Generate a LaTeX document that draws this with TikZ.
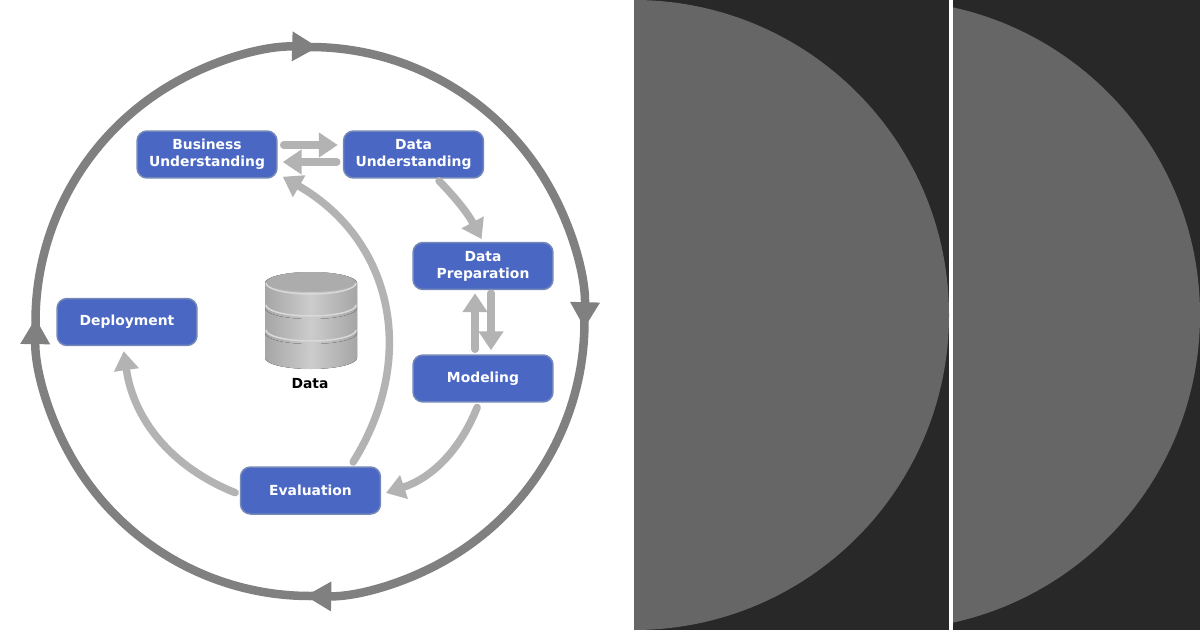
\documentclass[tikz,border=0pt]{standalone}
\usepackage{fontspec}
\setmainfont{DejaVu Sans}
\usepackage{tikz}
\usetikzlibrary{arrows.meta}
\definecolor{stepblue}{HTML}{4A67C3}
\definecolor{stepedge}{HTML}{7488B8}
\definecolor{flowgray}{HTML}{B3B3B3}
\definecolor{ringgray}{HTML}{808080}
\definecolor{paneldark}{HTML}{282828}
\definecolor{panellight}{HTML}{666666}
\tikzset{
  stepbox/.style={draw=stepedge,line width=.03cm,fill=stepblue,rounded corners=.2cm,
    minimum width=2.8cm,minimum height=.94cm,inner sep=0pt,align=center,text=white,
    font=\fontsize{7.9}{9.7}\selectfont\bfseries},
  flow/.style={draw=flowgray,line width=.15cm,line cap=round,
    -{Triangle[length=.38cm,width=.48cm]}},
  ring/.style={draw=ringgray,line width=.17cm,
    -{Triangle[length=.52cm,width=.56cm]}}
}
\begin{document}
\begin{tikzpicture}[x=0.02cm,y=0.02cm]
\useasboundingbox[fill=white] (0,0) rectangle (1200,630);
% right panels
\fill[paneldark] (634,0) rectangle (949,630);
\fill[paneldark] (953,0) rectangle (1200,630);
\begin{scope}
\clip (634,0) rectangle (949,630);
\fill[panellight] (634,315) circle[radius=315];
\end{scope}
\begin{scope}
\clip (953,0) rectangle (1200,630);
\fill[panellight] (885,315) circle[radius=315];
\end{scope}
% outer ring
\foreach \a/\b in {91.3/-1.4,1.6/-91,-88/-180.7,182.3/88.3}
  \draw[ring] ([shift={(\a:274.5)}]310,308.5) arc[start angle=\a,end angle=\b,radius=274.5];
% data drum
\foreach \y in {297,322,347}
  \fill[left color=gray!70,right color=gray!70,middle color=gray!40]
    (265,\y) -- (265,\y-25) arc[start angle=180,end angle=360,x radius=46,y radius=11]
    -- (357,\y) arc[start angle=0,end angle=180,x radius=46,y radius=11] -- cycle;
\foreach \y in {300,325,347}
  \draw[gray!30,line width=.03cm] (266,\y) arc[start angle=180,end angle=360,x radius=45,y radius=11];
\fill[gray!65] (311,348) ellipse[x radius=42,y radius=10];
\node (datalabel) at (310,246) {\fontsize{7.9}{9.7}\selectfont\bfseries Data};
% steps
\node[stepbox] (bu) at (207,475.5) {Business\\Understanding};
\node[stepbox] (du) at (413.5,475.5) {Data\\Understanding};
\node[stepbox] (dp) at (483,364) {Data\\Preparation};
\node[stepbox] (mo) at (483,251.5) {Modeling};
\node[stepbox] (ev) at (310.5,139.5) {Evaluation};
\node[stepbox] (de) at (127,308) {Deployment};
% flows
\draw[flow,shorten <=.12cm,shorten >=.1cm] ([yshift=.19cm]bu.east) -- ([yshift=.19cm]du.west);
\draw[flow,shorten <=.12cm,shorten >=.1cm] ([yshift=-.15cm]du.west) -- ([yshift=-.15cm]bu.east);
\draw[flow,shorten <=.06cm,shorten >=.06cm] ([xshift=.47cm]du.south) to[bend left=8] (dp.north);
\draw[flow,shorten <=.1cm,shorten >=.06cm] ([xshift=-.16cm]mo.north) -- ([xshift=-.16cm]dp.south);
\draw[flow,shorten <=.06cm,shorten >=.08cm] ([xshift=.16cm]dp.south) -- ([xshift=.16cm]mo.north);
\draw[flow,shorten <=.1cm,shorten >=.1cm] ([xshift=-.08cm]mo.south) to[bend left=25] ([yshift=-.08cm]ev.east);
\draw[flow,shorten <=.1cm,shorten >=.1cm] ([yshift=-.08cm]ev.west) to[bend left=30] ([xshift=-.08cm]de.south);
\draw[flow,shorten <=.1cm] ([xshift=.8cm]ev.north) to[out=58,in=-30,looseness=1.1] ([shift={(.1cm,.04cm)}]bu.south east);
\end{tikzpicture}
\end{document}
